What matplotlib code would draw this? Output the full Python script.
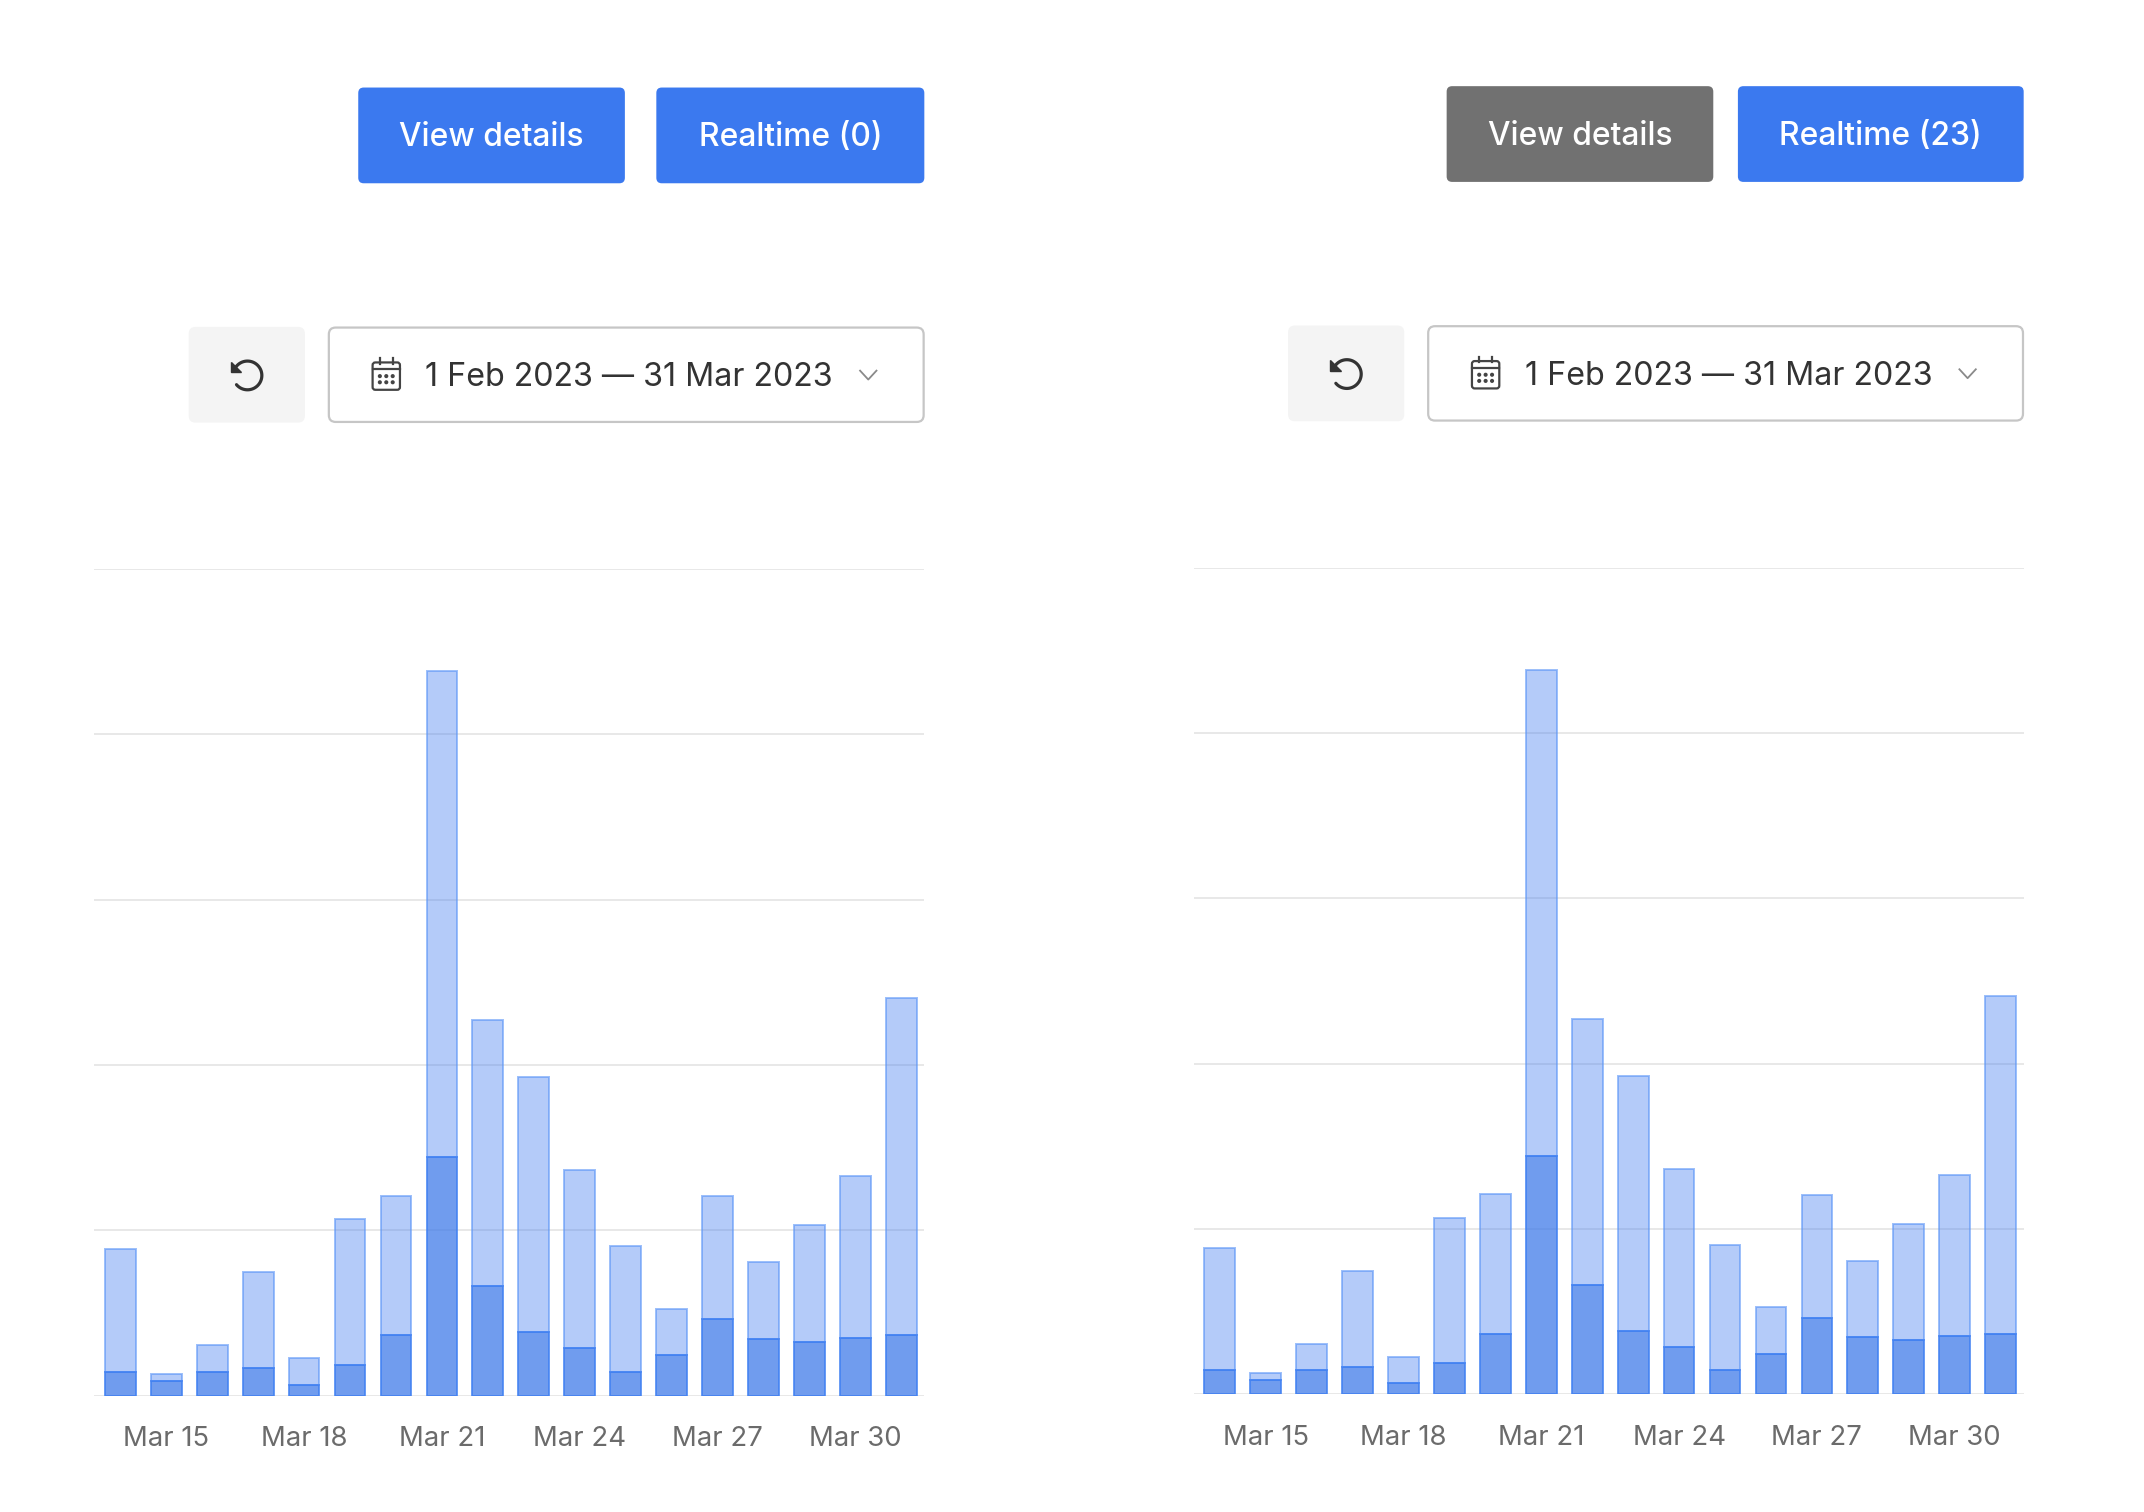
import numpy as np
import matplotlib
matplotlib.use("Agg")
import matplotlib.pyplot as plt
from matplotlib.patches import FancyBboxPatch, Polygon, Circle

plt.rcParams['font.family'] = ['Inter', 'DejaVu Sans']

days = ["Mar 14", "Mar 15", "Mar 16", "Mar 17", "Mar 18", "Mar 19", "Mar 20", "Mar 21", "Mar 22",
        "Mar 23", "Mar 24", "Mar 25", "Mar 26", "Mar 27", "Mar 28", "Mar 29", "Mar 30", "Mar 31"]
inner = [7.3, 4.4, 7.3, 8.3, 3.4, 9.4, 18.4, 72.2, 33.2, 19.3, 14.3, 7.3, 12.3, 23.2, 17.3, 16.3, 17.6, 18.4]
total = [44.3, 6.5, 15.3, 37.3, 11.4, 53.3, 60.5, 219, 113.6, 96.3, 68.3, 45.3, 26.3, 60.4, 40.3, 51.5, 66.3, 120.4]
grid_ticks = [0, 50, 100, 150, 200, 250]
date_range = "1 Feb 2023 \u2014 31 Mar 2023"

BLUE = "#3B79EF"
W, H = 1568.0, 1105.5

fig = plt.figure(figsize=(21.44, 15.12), dpi=100, facecolor="white")
ui = fig.add_axes([0, 0, 1, 1], zorder=5)
ui.set_xlim(0, W)
ui.set_ylim(H, 0)
ui.axis("off")
ui.patch.set_alpha(0)


def box(x0, x1, y0, y1, fc, ec="none", lw=0, r=5):
    ui.add_patch(FancyBboxPatch((x0 + r, y0 + r), x1 - x0 - 2 * r, y1 - y0 - 2 * r,
                                boxstyle=f"round,pad={r},rounding_size={r}",
                                fc=fc, ec=ec, lw=lw))


def button(x0, x1, y0, y1, label, fc):
    box(x0, x1, y0, y1, fc, r=4)
    ui.text((x0 + x1) / 2, (y0 + y1) / 2 + 1.8, label, color="white", fontsize=22.9,
            fontweight="medium", ha="center", va="center")


def reset_icon(cx, cy):
    t = np.radians(np.linspace(-140, 150, 80))
    r = 10.5
    ui.plot(cx + 0.5 + r * np.cos(t), cy - r * np.sin(t), color="#333333", lw=2.3,
            solid_capstyle="round")
    ui.add_patch(Polygon([(cx - 11.5, cy - 10), (cx - 11.5, cy - 2.5), (cx - 4, cy - 2.5)],
                         closed=True, fc="#333333", ec="#333333", lw=1))


def calendar_icon(cx, cy):
    c = "#444444"
    box(cx - 10, cx + 10, cy - 9, cy + 11, "none", ec=c, lw=1.6, r=2)
    ui.plot([cx - 10, cx + 10], [cy - 4, cy - 4], color=c, lw=1.6)
    for dx in (-4.7, 4.7):
        ui.plot([cx + dx, cx + dx], [cy - 12, cy - 8], color=c, lw=1.6)
    for dx in (-4.7, 0, 4.7):
        for dy in (1, 5.5):
            ui.add_patch(Circle((cx + dx, cy + dy), 1.5, fc=c, ec="none"))


def panel(dx, dy, rt_label, details_color, details_x, rt_x):
    button(details_x[0], details_x[1], 64 + dy, 134 + dy, "View details", details_color)
    button(rt_x[0], rt_x[1], 64 + dy, 134 + dy, rt_label, BLUE)

    box(138 + dx, 223 + dx, 239 + dy, 309 + dy, "#F4F4F4", r=5)
    reset_icon(180.5 + dx, 274.5 + dy)
    box(240.5 + dx, 675.5 + dx, 239.5 + dy, 308.5 + dy, "white", ec="#C6C6C6", lw=1.6, r=5)
    calendar_icon(282.5 + dx, 274 + dy)
    ui.text(311 + dx, 276 + dy, date_range, color="#333333", fontsize=23.2,
            ha="left", va="center")
    ui.plot(np.array([629, 635, 641]) + dx, np.array([271, 277.5, 271]) + dy,
            color="#8a8a8a", lw=1.3)

    ax = fig.add_axes([(69 + dx) / W, 1 - (1020.5 + dy) / H, 607 / W, 604.5 / H], zorder=1)
    ax.patch.set_alpha(0)
    for s in ax.spines.values():
        s.set_visible(False)
    x = np.arange(len(days))
    inner_a = np.array(inner)
    total_a = np.array(total)
    ax.bar(x, total_a - inner_a, 0.67, bottom=inner_a, color=(0.23, 0.47, 0.94, 0.38),
           edgecolor=(0.35, 0.58, 0.97, 0.6), linewidth=1.4, zorder=3)
    ax.bar(x, inner_a, 0.67, color=(0.23, 0.47, 0.91, 0.73),
           edgecolor=(0.25, 0.50, 0.95, 0.8), linewidth=1.4, zorder=3)
    ax.set_xlim(-0.565, 17.5)
    ax.set_ylim(0, 250)
    ax.set_yticks(grid_ticks)
    ax.tick_params(axis="y", left=False, labelleft=False)
    ax.yaxis.grid(True, color="#E8E8E8", lw=1.4, zorder=0)
    ax.set_axisbelow(True)
    ax.set_xticks(x[1::3])
    ax.set_xticklabels(days[1::3])
    ax.tick_params(axis="x", length=0, pad=22, labelsize=19.8, labelcolor="#6b6b6b")


panel(0, 0, "Realtime (0)", BLUE, (262, 457), (480, 676))
panel(804, -1, "Realtime (23)", "#717171", (1058, 1253), (1271, 1480))

fig.savefig("out.png", dpi=100, facecolor="white")
